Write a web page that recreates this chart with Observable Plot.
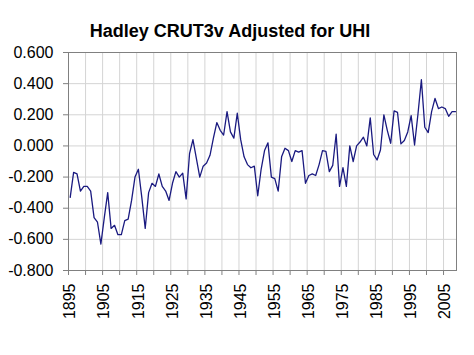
<!DOCTYPE html>
<html>
<head>
<meta charset="utf-8">
<script src="https://cdn.jsdelivr.net/npm/d3@7"></script>
<script src="https://cdn.jsdelivr.net/npm/@observablehq/plot@0.6"></script>
<style>
  html, body { margin: 0; padding: 0; background: #fff; }
  #wrap { position: relative; width: 474px; height: 355px; font-family: "Liberation Sans", Arial, sans-serif; }
  #title { position: absolute; left: 0; top: 22px; width: 460px; text-align: center; font-size: 18px; line-height: 18px; font-weight: bold; color: #000; }
</style>
</head>
<body>
<div id="wrap">
  <div id="chart"></div>
  <div id="title">Hadley CRUT3v Adjusted for UHI</div>
</div>
<script>
const titleText = "Hadley CRUT3v Adjusted for UHI";

const years = d3.range(1895, 2009);

const anomalies = [
  -0.33, -0.17, -0.18, -0.29, -0.26, -0.26, -0.29, -0.46, -0.49, -0.63,
  -0.46, -0.30, -0.53, -0.51, -0.57, -0.57, -0.48, -0.47, -0.35, -0.20,
  -0.15, -0.33, -0.53, -0.30, -0.24, -0.26, -0.18, -0.26, -0.29, -0.35,
  -0.24, -0.165, -0.20, -0.175, -0.34, -0.05, 0.04, -0.08, -0.20, -0.13,
  -0.11, -0.06, 0.05, 0.15, 0.10, 0.07, 0.22, 0.09, 0.05, 0.21,
  0.04, -0.07, -0.12, -0.14, -0.13, -0.32, -0.15, -0.03, 0.02, -0.20,
  -0.21, -0.29, -0.07, -0.015, -0.03, -0.10, -0.03, -0.04, -0.03, -0.24,
  -0.19, -0.18, -0.19, -0.12, -0.03, -0.035, -0.165, -0.125, 0.075, -0.26,
  -0.14, -0.26, 0.00, -0.10, 0.00, 0.025, 0.056, 0.00, 0.18, -0.055,
  -0.09, -0.026, 0.20, 0.10, 0.017, 0.225, 0.215, 0.013, 0.035, 0.09,
  0.195, 0.006, 0.205, 0.425, 0.12, 0.086, 0.22, 0.305, 0.24, 0.25,
  0.24, 0.19, 0.22, 0.22
];

const yTicks = [-0.8, -0.6, -0.4, -0.2, 0.0, 0.2, 0.4, 0.6];
const xLabels = [1895, 1905, 1915, 1925, 1935, 1945, 1955, 1965, 1975, 1985, 1995, 2005];

// category boundaries every 5 years (gridlines / tick marks)
const xBoundaries = d3.range(1894.5, 2009, 5);

const data = years.map((y, i) => ({year: y, value: anomalies[i]}));

const chart = Plot.plot({
  width: 474,
  height: 355,
  marginTop: 52,
  marginBottom: 85,
  marginLeft: 68,
  marginRight: 18,
  style: {fontFamily: '"Liberation Sans", Arial, sans-serif', fontSize: "16px", color: "#000", background: "#fff"},
  x: {type: "linear", domain: [1894.5, 2008.3]},
  y: {domain: [-0.8, 0.6]},
  marks: [
    Plot.gridY(yTicks, {stroke: "#d4d4d4", strokeOpacity: 1}),
    Plot.gridX(xBoundaries, {stroke: "#d4d4d4", strokeOpacity: 1}),
    Plot.frame({stroke: "#808080"}),
    Plot.axisY(yTicks, {tickSize: 5, tickPadding: 10, stroke: "#808080", fill: "#000", tickFormat: d => d.toFixed(3), fontSize: 16, label: null}),
    Plot.axisX(xBoundaries, {tickSize: 5, stroke: "#808080", tickFormat: () => "", label: null}),
    Plot.axisX(xLabels, {tickSize: 0, tickPadding: 13, tickRotate: -90, fill: "#000", tickFormat: d => String(d), fontSize: 16, label: null}),
    Plot.line(data, {x: "year", y: "value", stroke: "#1a1a80", strokeWidth: 1.3})
  ]
});
document.getElementById("chart").appendChild(chart);
document.getElementById("title").textContent = titleText;
</script>
</body>
</html>
